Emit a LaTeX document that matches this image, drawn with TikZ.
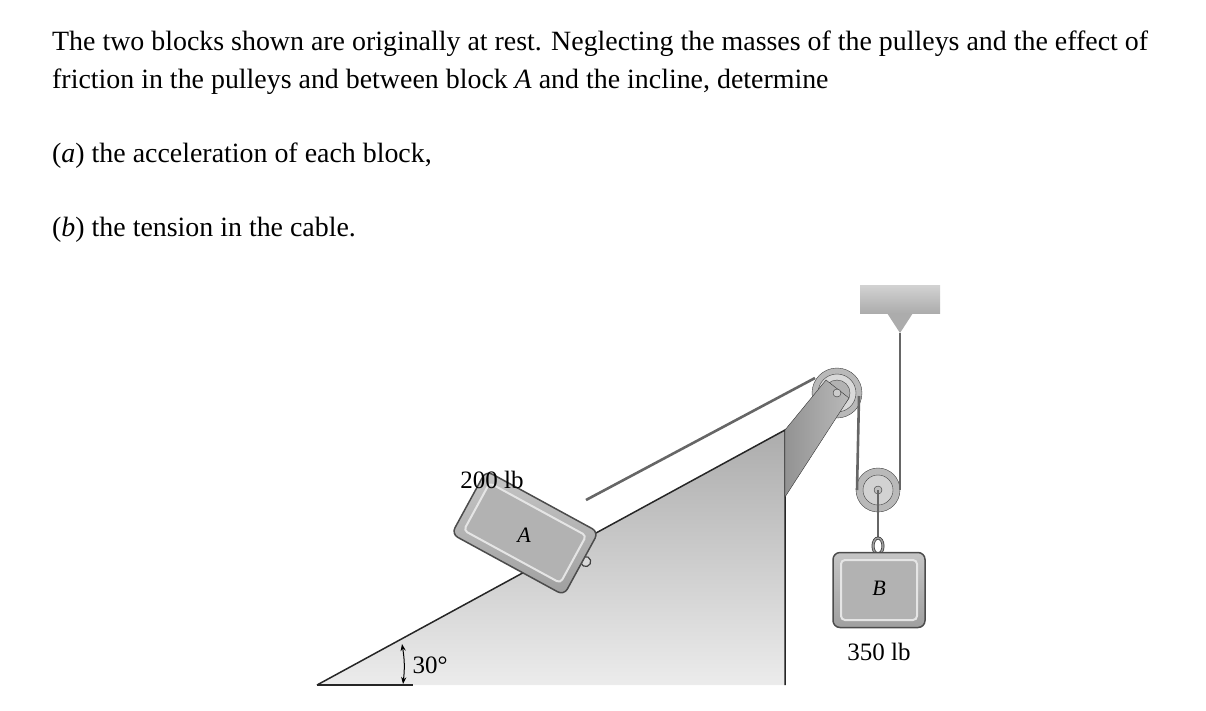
\documentclass[tikz,border=0pt]{standalone}
\usepackage{fontspec}
\setmainfont{Liberation Serif}
\usetikzlibrary{arrows.meta}
\begin{document}
\begin{tikzpicture}[x=1pt,y=-1pt,
  para/.style={anchor=base west,inner sep=0pt,font=\fontsize{27.9}{32}\selectfont},
  lab/.style={inner sep=0pt,font=\fontsize{25}{28}\selectfont},
  rope/.style={draw=gray!80!black,line width=2.6pt},
  blk/.style={draw=gray!60!black,line width=1.5pt,rounded corners=7pt,top color=gray!45,bottom color=gray!75}]
\useasboundingbox (0,0) rectangle (1206,710);
\node[para] (t1) at (52,50) {The two blocks shown are originally at rest. Neglecting the masses of the pulleys and the effect of};
\node[para] (t2) at (52,88) {friction in the pulleys and between block \emph{A} and the incline, determine};
\node[para] (t3) at (52,162) {(\emph{a}) the acceleration of each block,};
\node[para] (t4) at (52,236) {(\emph{b}) the tension in the cable.};
% incline
\shade[top color=gray!65,bottom color=gray!15] (317,685) -- (785,430) -- (785,685) -- cycle;
\draw[gray!30!black,line width=1.5pt] (317,685) -- (785,430) -- (785,685);
\draw[gray!30!black,line width=2pt] (317,685) -- (413,685);
% ceiling
\shade[top color=gray!35,bottom color=gray!65] (860,285) rectangle (940,313);
\fill[gray!65] (887,313) -- (913,313) -- (900,333) -- cycle;
% pulleys
\coordinate (P1) at (837,393);
\coordinate (P2) at (878,490);
\filldraw[fill=gray!55,draw=gray!50!black] (P1) circle (25);
\filldraw[fill=gray!30,draw=gray!50!black] (P1) circle (19);
\filldraw[fill=gray!60,draw=gray!50!black] (P1) circle (13);
\filldraw[fill=gray!55,draw=gray!50!black] (P2) circle (22);
\filldraw[fill=gray!35,draw=gray!50!black] (P2) circle (15);
% bracket
\shade[left color=gray!85,right color=gray!55,draw=gray!40!black] (785,430) -- (826,380) -- (849,398) -- (785,497) -- cycle;
\filldraw[fill=gray!40,draw=gray!40!black] (P1) circle (4);
\filldraw[fill=gray!50,draw=gray!40!black] (P2) circle (4);
% ropes
\draw[rope] (900,333) -- (900,490);
\draw[rope] (859,396) -- (857,490);
% block A
\begin{scope}[shift={(525,533)},rotate=-28.6,transform shape]
\filldraw[fill=gray!30,draw=gray!50!black,line width=1.2pt] (67,-4) circle (5);
\node[blk,minimum width=128pt,minimum height=72pt] (A) at (0,0) {};
\node[draw=gray!20,line width=2pt,rounded corners=4pt,fill=gray!60,minimum width=110pt,minimum height=54pt,inner sep=0pt] (Ai) at (0,0) {};
\end{scope}
\coordinate (Ahook) at (586,500);
\draw[rope] (Ahook) -- (815,378);
\node[lab,font=\fontsize{22}{24}\selectfont\itshape] (Alab) at (524,535) {A};
% block B
\draw[rope] (P2) -- (878,538);
\draw[gray!50!black,line width=3pt] (878,546) ellipse (5 and 8);
\draw[gray!75,line width=1.4pt] (878,546) ellipse (5 and 8);
\node[blk,minimum width=92pt,minimum height=75pt] (B) at (879,590) {};
\node[draw=gray!20,line width=2pt,rounded corners=4pt,fill=gray!60,minimum width=76pt,minimum height=60pt,inner sep=0pt] (Bi) at (879,590) {};
\node[lab,font=\fontsize{22}{24}\selectfont\itshape] (Blab) at (879,588) {B};
% labels
\node[lab] (w1) at (492,480) {200 lb};
\node[lab] (w2) at (879,652) {350 lb};
\node[lab] (ang) at (430,665) {30°};
\coordinate (a1) at (402,644);
\coordinate (a2) at (403,684);
\draw[{Stealth[length=7pt]}-{Stealth[length=7pt]},line width=1pt] (a1) to[bend left=8] (a2);
\end{tikzpicture}
\end{document}
